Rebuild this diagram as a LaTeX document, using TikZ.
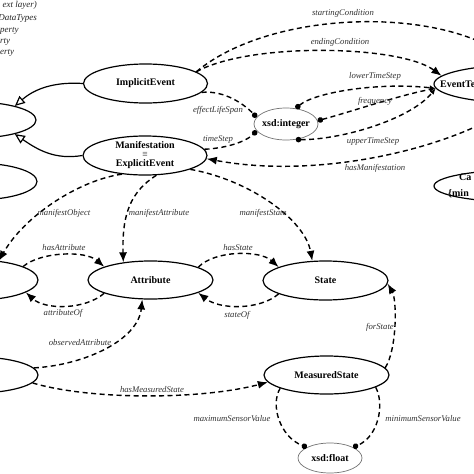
\documentclass[tikz,border=0pt]{standalone}
\usepackage{fontspec}
\setmainfont{Liberation Serif}
\usetikzlibrary{arrows.meta,shapes.geometric}
\begin{document}
\begin{tikzpicture}[x=1pt,y=-1pt,
  cls/.style={ellipse,draw,line width=1.2pt,inner sep=0pt,font=\fontsize{10}{10}\selectfont\bfseries,align=center},
  dtype/.style={ellipse,draw=black!55,line width=0.7pt,inner ysep=0pt,inner xsep=-8pt,font=\fontsize{10}{10}\selectfont\bfseries},
  boldtxt/.style={inner sep=0pt,font=\fontsize{10}{10}\selectfont\bfseries},
  prop/.style={line width=1.4pt,dash pattern=on 5pt off 3.5pt},
  sub/.style={line width=1.2pt,-{Triangle[open,length=10pt,width=9pt]}},
  harr/.style={-{Latex[length=10pt,width=8pt]}},
  dotend/.style={-{Circle[length=5.5pt]}},
  twoend/.style={{Circle[length=5.5pt]}-{Latex[length=6pt,width=5pt]}},
  lbl/.style={font=\fontsize{8.7}{9}\selectfont\itshape,text=black!80,inner sep=0pt},
  tl/.style={font=\fontsize{9}{9}\selectfont\itshape,text=black!85,inner sep=0pt}
]
\useasboundingbox (0,0) rectangle (474,474);
\fill[white] (0,0) rectangle (474,474);
\clip (0,0) rectangle (474,474);

% top-left legend fragments
\node[tl,anchor=east] (t1) at (37,5) {ext layer)};
\node[tl,anchor=east] (t2) at (37,19) {DataTypes};
\node[tl,anchor=west] (t3) at (0,31) {perty};
\node[tl,anchor=west] (t4) at (0,42) {rty};
\node[tl,anchor=west] (t5) at (0,53) {erty};

% cut-off classes on the left
\node[cls,minimum width=124pt,minimum height=36pt] (cls1) at (-26,120) {};
\node[cls,minimum width=124pt,minimum height=37pt] (cls2) at (-25,181.5) {};
\node[cls,minimum width=124pt,minimum height=40pt] (obj) at (-24,280) {};
\node[cls,minimum width=124pt,minimum height=36pt] (sensor) at (-24,375) {};

% main classes
\node[cls,minimum width=124pt,minimum height=39pt] (impl) at (145.5,83.5) {ImplicitEvent};
\node[cls,minimum width=124pt,minimum height=39pt,font=\fontsize{10}{9}\selectfont\bfseries] (manif) at (145,155.5) {Manifestation\\{\fontsize{9.5}{8}\selectfont\color{black!60}≡}\\ExplicitEvent};
\node[cls,minimum width=125pt,minimum height=38pt] (attr) at (150.5,280) {Attribute};
\node[cls,minimum width=125pt,minimum height=39pt] (state) at (325.5,280.5) {State};
\node[cls,minimum width=125pt,minimum height=38pt] (meas) at (326.5,375) {MeasuredState};
\node[dtype,minimum width=64pt,minimum height=32pt] (int) at (286,124) {xsd:integer};
\node[dtype,minimum width=64pt,minimum height=30pt] (float) at (330,458) {xsd:float};

% cut-off classes on the right
\node[cls,minimum width=172pt,minimum height=38pt] (evt) at (520,84) {};
\node[boldtxt,anchor=west] (evttext) at (440,84) {EventTe};
\node[cls,minimum width=172pt,minimum height=32pt] (card) at (520,186) {};
\node[boldtxt,anchor=west] (cardA) at (459,177) {Ca};
\node[boldtxt,anchor=west] (cardB) at (448,194) {\{min};

% subclass links
\draw[sub] (impl.west) .. controls (60,82) and (38,86) .. (cls1.19);
\draw[sub] (manif.west) .. controls (55,160) and (38,150) .. (cls1.-19);

% properties
\draw[prop,harr] (impl.13) .. controls (270,10) and (440,5) .. (evt.100);
\node[lbl] (l1) at (343,13) {startingCondition};
\draw[prop,harr] (impl.13) .. controls (250,42) and (400,45) .. (evt.174);
\node[lbl] (l2) at (340,42) {endingCondition};

\draw[prop,dotend] (impl.-9) .. controls (225,90) and (245,105) .. (int.167);
\node[lbl] (l3) at (218,110) {effectLifeSpan};
\draw[prop,dotend] (manif.6) .. controls (230,148) and (248,140) .. (int.193);
\node[lbl] (l4) at (218,140) {timeStep};

\draw[prop,twoend] (int.58) .. controls (315,92) and (380,82) .. (evt.183);
\node[lbl] (l5) at (375,76) {lowerTimeStep};
\draw[prop,twoend] (int.6) .. controls (350,112) and (400,95) .. (evt.183);
\node[lbl] (l6) at (375,101) {frequency};
\draw[prop,twoend] (int.-58) .. controls (340,140) and (410,120) .. (evt.183);
\node[lbl] (l7) at (373,142) {upperTimeStep};

\draw[prop,harr] (evt.-100) .. controls (455,148) and (320,180) .. (manif.-3);
\node[lbl] (l8) at (375,168) {hasManifestation};

\draw[prop,harr] (manif.219) .. controls (80,180) and (25,215) .. (obj.40);
\node[lbl] (l9) at (64,213) {manifestObject};
\draw[prop,harr] (manif.-60) .. controls (130,192) and (122,215) .. (attr.147);
\node[lbl] (l10) at (159,213) {manifestAttribute};
\draw[prop,harr] (manif.-17) .. controls (250,180) and (305,220) .. (state.124);
\node[lbl] (l11) at (263,213) {manifestState};

\draw[prop,harr] (obj.16) .. controls (40,252) and (85,250) .. (attr.164);
\node[lbl] (l12) at (64,248) {hasAttribute};
\draw[prop,harr] (attr.196) .. controls (85,310) and (45,310) .. (obj.-14);
\node[lbl] (l13) at (63,313) {attributeOf};
\draw[prop,harr] (attr.15) .. controls (215,250) and (260,250) .. (state.164);
\node[lbl] (l14) at (238,248) {hasState};
\draw[prop,harr] (state.196) .. controls (260,310) and (220,310) .. (attr.-15);
\node[lbl] (l15) at (237,315) {stateOf};

\draw[prop,harr] (sensor.7) .. controls (85,365) and (138,340) .. (attr.247);
\node[lbl] (l16) at (80,343) {observedAttribute};
\draw[prop,harr] (sensor.-8) .. controls (90,400) and (200,400) .. (meas.187);
\node[lbl] (l17) at (152,390) {hasMeasuredState};
\draw[prop,harr] (meas.7) .. controls (397,350) and (397,300) .. (state.-3);
\node[lbl] (l18) at (380,327) {forState};
\draw[prop,dotend] (meas.196) .. controls (270,405) and (280,437) .. (float.155);
\node[lbl] (l19) at (232,419) {maximumSensorValue};
\draw[prop,dotend] (meas.-14) .. controls (385,405) and (378,437) .. (float.25);
\node[lbl] (l20) at (423,419) {minimumSensorValue};
\end{tikzpicture}
\end{document}
